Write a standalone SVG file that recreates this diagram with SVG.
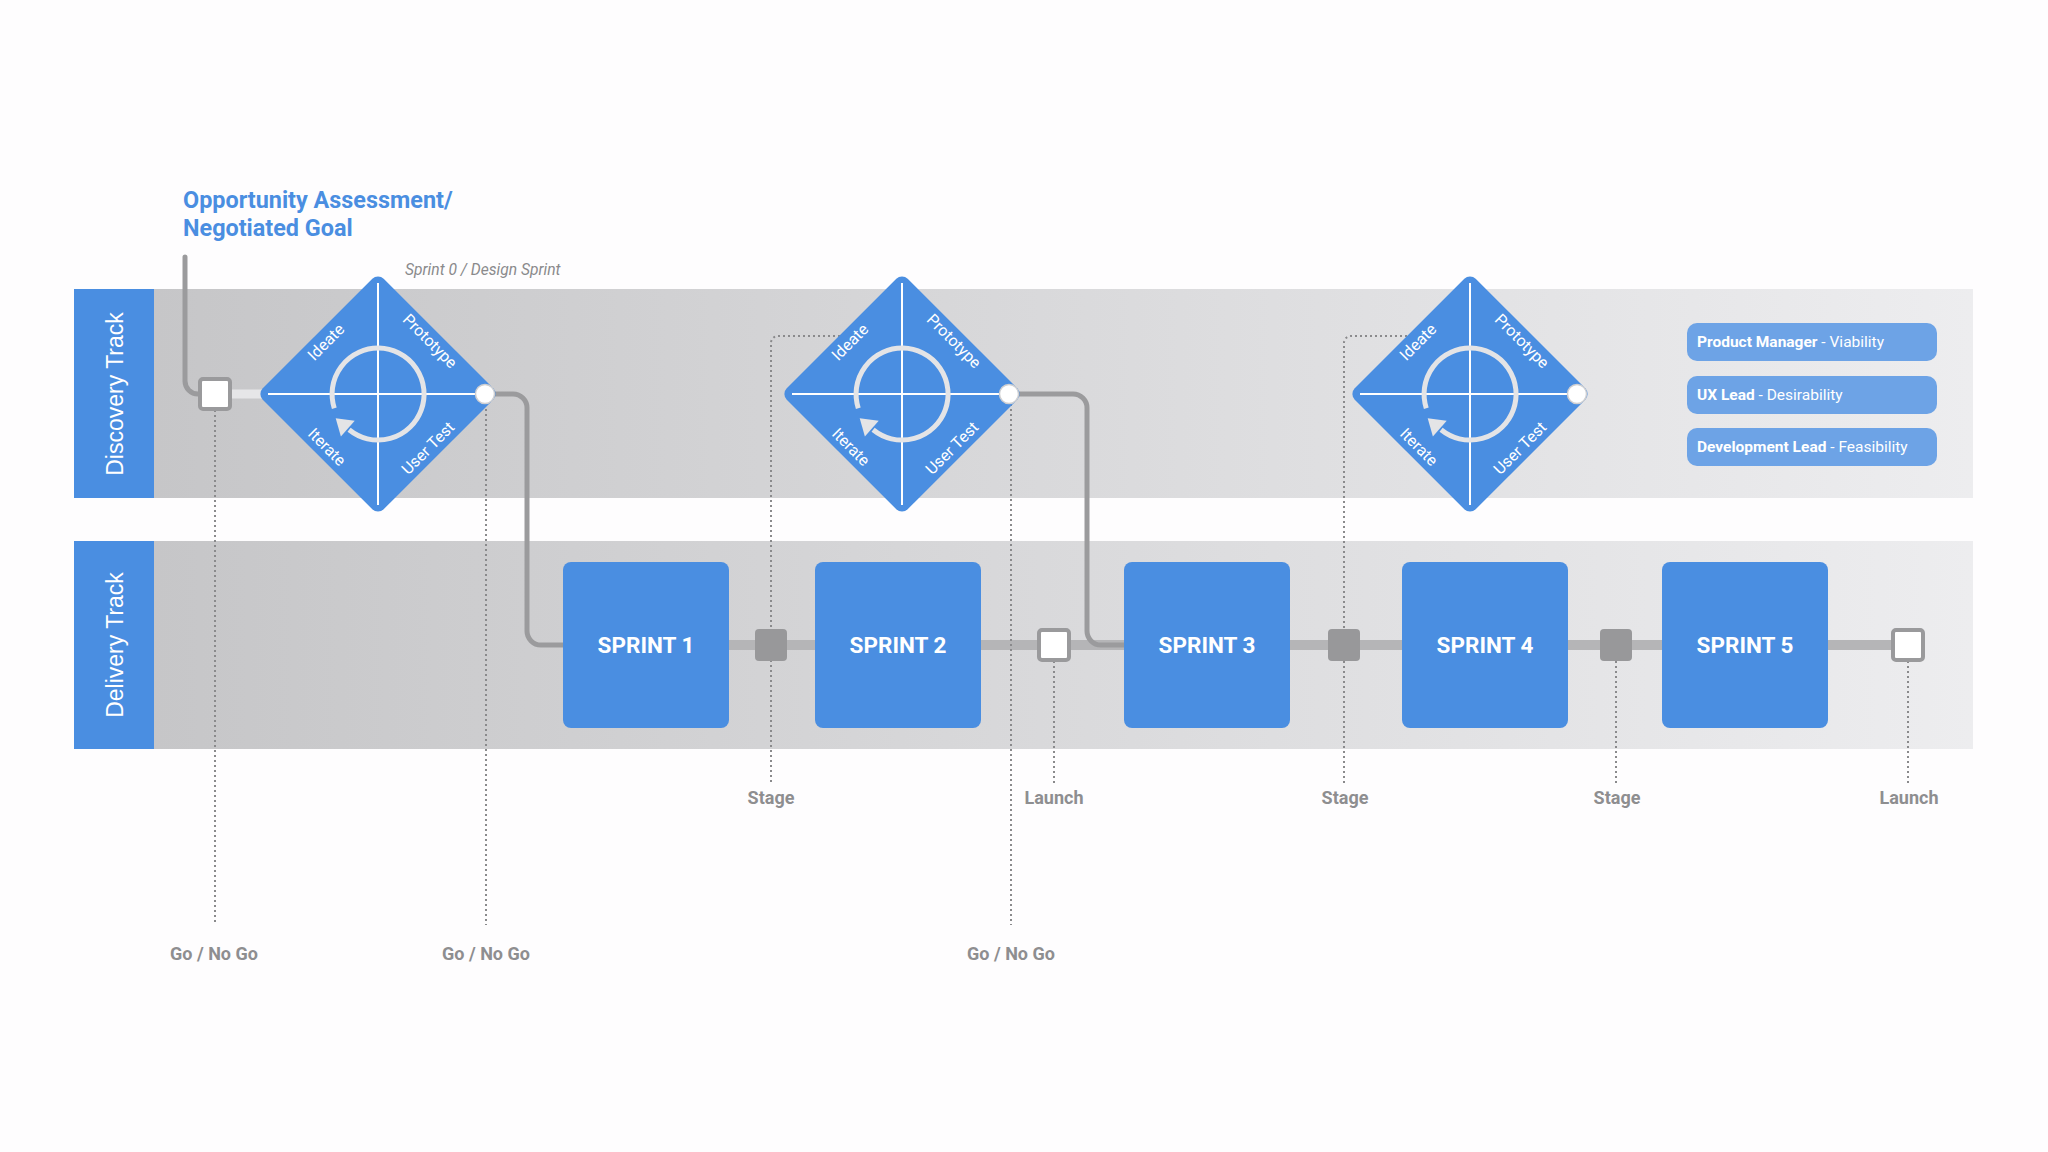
<svg xmlns="http://www.w3.org/2000/svg" xmlns:xlink="http://www.w3.org/1999/xlink" width="2048" height="1152" viewBox="0 0 2048 1152">
<style>
.lbl{font-family:Roboto,"Liberation Sans",sans-serif;font-weight:bold;font-size:18px;fill:#8e8e90;text-anchor:middle}
.trk{font-family:"Liberation Sans",Arial,sans-serif;font-size:23px;fill:#ffffff;text-anchor:middle;dominant-baseline:central}
.spr{font-family:Roboto,"Liberation Sans",sans-serif;font-weight:bold;font-size:22.5px;fill:#ffffff;text-anchor:middle}
.dl{font-family:Roboto,"Liberation Sans",sans-serif;font-size:16px;fill:#ffffff;text-anchor:middle;dominant-baseline:central}
.leg{font-family:Roboto,"Liberation Sans",sans-serif;font-size:15.5px;fill:#ffffff}
.legb{fill:#6da3e6}
.sprbox{fill:#4a8ee1}
.solid{fill:none;stroke:#9b9b9d;stroke-width:5;stroke-linecap:round}
.dot{fill:none;stroke:#8a8a8c;stroke-width:2;stroke-dasharray:2 3}
.wsq{fill:#ffffff;stroke:#9a9a9c;stroke-width:4}
.gsq{fill:#98989a}
.tip{fill:#ffffff;stroke:#cfcfd1;stroke-width:1.5}
</style>
<defs>
<linearGradient id="band" gradientUnits="userSpaceOnUse" x1="154" y1="0" x2="1973" y2="0">
<stop offset="0" stop-color="#c6c6c8"/>
<stop offset="1" stop-color="#ededef"/>
</linearGradient>
<g id="diamondBase">
<rect x="-85.5" y="-85.5" width="171" height="171" rx="8" fill="#4a8ee1" transform="rotate(45)"/>
<line x1="-110" y1="0" x2="100" y2="0" stroke="#ffffff" stroke-width="2"/>
<line x1="0" y1="-111" x2="0" y2="111" stroke="#ffffff" stroke-width="2"/>
<path d="M-43.7 14.2 A46 46 0 1 1 -28.9 35.8" fill="none" stroke="#e4e4e6" stroke-width="5"/>
<polygon points="-37.1,42.6 -23.3,26.8 -42.3,24.2" fill="#e4e4e6"/>
</g>
</defs>
<rect width="2048" height="1152" fill="#fefdfe"/>

<g id="tracks">
<rect x="154" y="289" width="1819" height="209" fill="url(#band)"/>
<rect x="154" y="541" width="1819" height="208" fill="url(#band)"/>
<g id="discovery-label">
<rect x="74" y="289" width="80" height="209" fill="#4a8ee1"/>
<text class="trk" transform="translate(115 394) rotate(-90)">Discovery Track</text>
</g>
<g id="delivery-label">
<rect x="74" y="541" width="80" height="208" fill="#4a8ee1"/>
<text class="trk" transform="translate(115 645) rotate(-90)">Delivery Track</text>
</g>
</g>

<g id="title">
<text font-family="Roboto,'Liberation Sans',sans-serif" font-weight="bold" font-size="23.4" fill="#4a8ee1"><tspan x="183" y="208">Opportunity Assessment/</tspan><tspan x="183" y="236">Negotiated Goal</tspan></text>
<text x="405" y="275" font-family="Roboto,'Liberation Sans',sans-serif" font-style="italic" font-size="15.6" fill="#8a8a8c">Sprint 0 / Design Sprint</text>
</g>

<g id="connectors">
<line x1="729" y1="645" x2="1900" y2="645" stroke="#b5b5b7" stroke-width="10"/>
<line x1="228" y1="394" x2="268" y2="394" stroke="#e6e6e8" stroke-width="9"/>
<path class="solid" d="M185 257 V381 A13 13 0 0 0 198 394 H202"/>
<path class="solid" d="M494 394 H513 A14 14 0 0 1 527 408 V631 A14 14 0 0 0 541 645 H563"/>
<path class="solid" d="M1018 394 H1073 A14 14 0 0 1 1087 408 V631 A14 14 0 0 0 1101 645 H1124"/>
<path class="dot" d="M215 410 V925"/>
<path class="dot" d="M486 404 V925"/>
<path class="dot" d="M1011 404 V925"/>
<path class="dot" d="M845 336 H778 A7 7 0 0 0 771 343 V785"/>
<path class="dot" d="M1412 336 H1351 A7 7 0 0 0 1344 343 V785"/>
<path class="dot" d="M1054 661 V785"/>
<path class="dot" d="M1616 661 V785"/>
<path class="dot" d="M1908 661 V785"/>
</g>

<g id="gate-start">
<rect class="wsq" x="200" y="379" width="30" height="30" rx="3"/>
</g>

<g id="diamond-1" transform="translate(378 394)">
<use xlink:href="#diamondBase"/>
<text class="dl" transform="translate(-52 -52) rotate(-45)">Ideate</text>
<text class="dl" transform="translate(52 -53) rotate(45)">Prototype</text>
<text class="dl" transform="translate(-51 53) rotate(45)">Iterate</text>
<text class="dl" transform="translate(50 54) rotate(-45)">User Test</text>
<circle class="tip" cx="107" cy="0" r="9.5"/>
</g>

<g id="diamond-2" transform="translate(902 394)">
<use xlink:href="#diamondBase"/>
<text class="dl" transform="translate(-52 -52) rotate(-45)">Ideate</text>
<text class="dl" transform="translate(52 -53) rotate(45)">Prototype</text>
<text class="dl" transform="translate(-51 53) rotate(45)">Iterate</text>
<text class="dl" transform="translate(50 54) rotate(-45)">User Test</text>
<circle class="tip" cx="107" cy="0" r="9.5"/>
</g>

<g id="diamond-3" transform="translate(1470 394)">
<use xlink:href="#diamondBase"/>
<text class="dl" transform="translate(-52 -52) rotate(-45)">Ideate</text>
<text class="dl" transform="translate(52 -53) rotate(45)">Prototype</text>
<text class="dl" transform="translate(-51 53) rotate(45)">Iterate</text>
<text class="dl" transform="translate(50 54) rotate(-45)">User Test</text>
<circle class="tip" cx="107" cy="0" r="9.5"/>
</g>

<g id="legend">
<g id="legend-pm"><rect class="legb" x="1687" y="323" width="250" height="38" rx="10"/><text class="leg" x="1697" y="347"><tspan font-weight="bold">Product Manager</tspan> - Viability</text></g>
<g id="legend-ux"><rect class="legb" x="1687" y="376" width="250" height="38" rx="10"/><text class="leg" x="1697" y="400"><tspan font-weight="bold">UX Lead</tspan> - Desirability</text></g>
<g id="legend-dev"><rect class="legb" x="1687" y="428" width="250" height="38" rx="10"/><text class="leg" x="1697" y="452"><tspan font-weight="bold">Development Lead</tspan> - Feasibility</text></g>
</g>

<g id="sprint-1"><rect class="sprbox" x="563" y="562" width="166" height="166" rx="8"/><text class="spr" x="646" y="653">SPRINT 1</text></g>
<g id="sprint-2"><rect class="sprbox" x="815" y="562" width="166" height="166" rx="8"/><text class="spr" x="898" y="653">SPRINT 2</text></g>
<g id="sprint-3"><rect class="sprbox" x="1124" y="562" width="166" height="166" rx="8"/><text class="spr" x="1207" y="653">SPRINT 3</text></g>
<g id="sprint-4"><rect class="sprbox" x="1402" y="562" width="166" height="166" rx="8"/><text class="spr" x="1485" y="653">SPRINT 4</text></g>
<g id="sprint-5"><rect class="sprbox" x="1662" y="562" width="166" height="166" rx="8"/><text class="spr" x="1745" y="653">SPRINT 5</text></g>

<g id="stage-1"><rect class="gsq" x="755" y="629" width="32" height="32" rx="4"/></g>
<g id="launch-1"><rect class="wsq" x="1039" y="630" width="30" height="30" rx="3"/></g>
<g id="stage-2"><rect class="gsq" x="1328" y="629" width="32" height="32" rx="4"/></g>
<g id="stage-3"><rect class="gsq" x="1600" y="629" width="32" height="32" rx="4"/></g>
<g id="launch-2"><rect class="wsq" x="1893" y="630" width="30" height="30" rx="3"/></g>

<g id="labels">
<text class="lbl" x="771" y="804">Stage</text>
<text class="lbl" x="1054" y="804">Launch</text>
<text class="lbl" x="1345" y="804">Stage</text>
<text class="lbl" x="1617" y="804">Stage</text>
<text class="lbl" x="1909" y="804">Launch</text>
<text class="lbl" x="214" y="960">Go / No Go</text>
<text class="lbl" x="486" y="960">Go / No Go</text>
<text class="lbl" x="1011" y="960">Go / No Go</text>
</g>
</svg>
